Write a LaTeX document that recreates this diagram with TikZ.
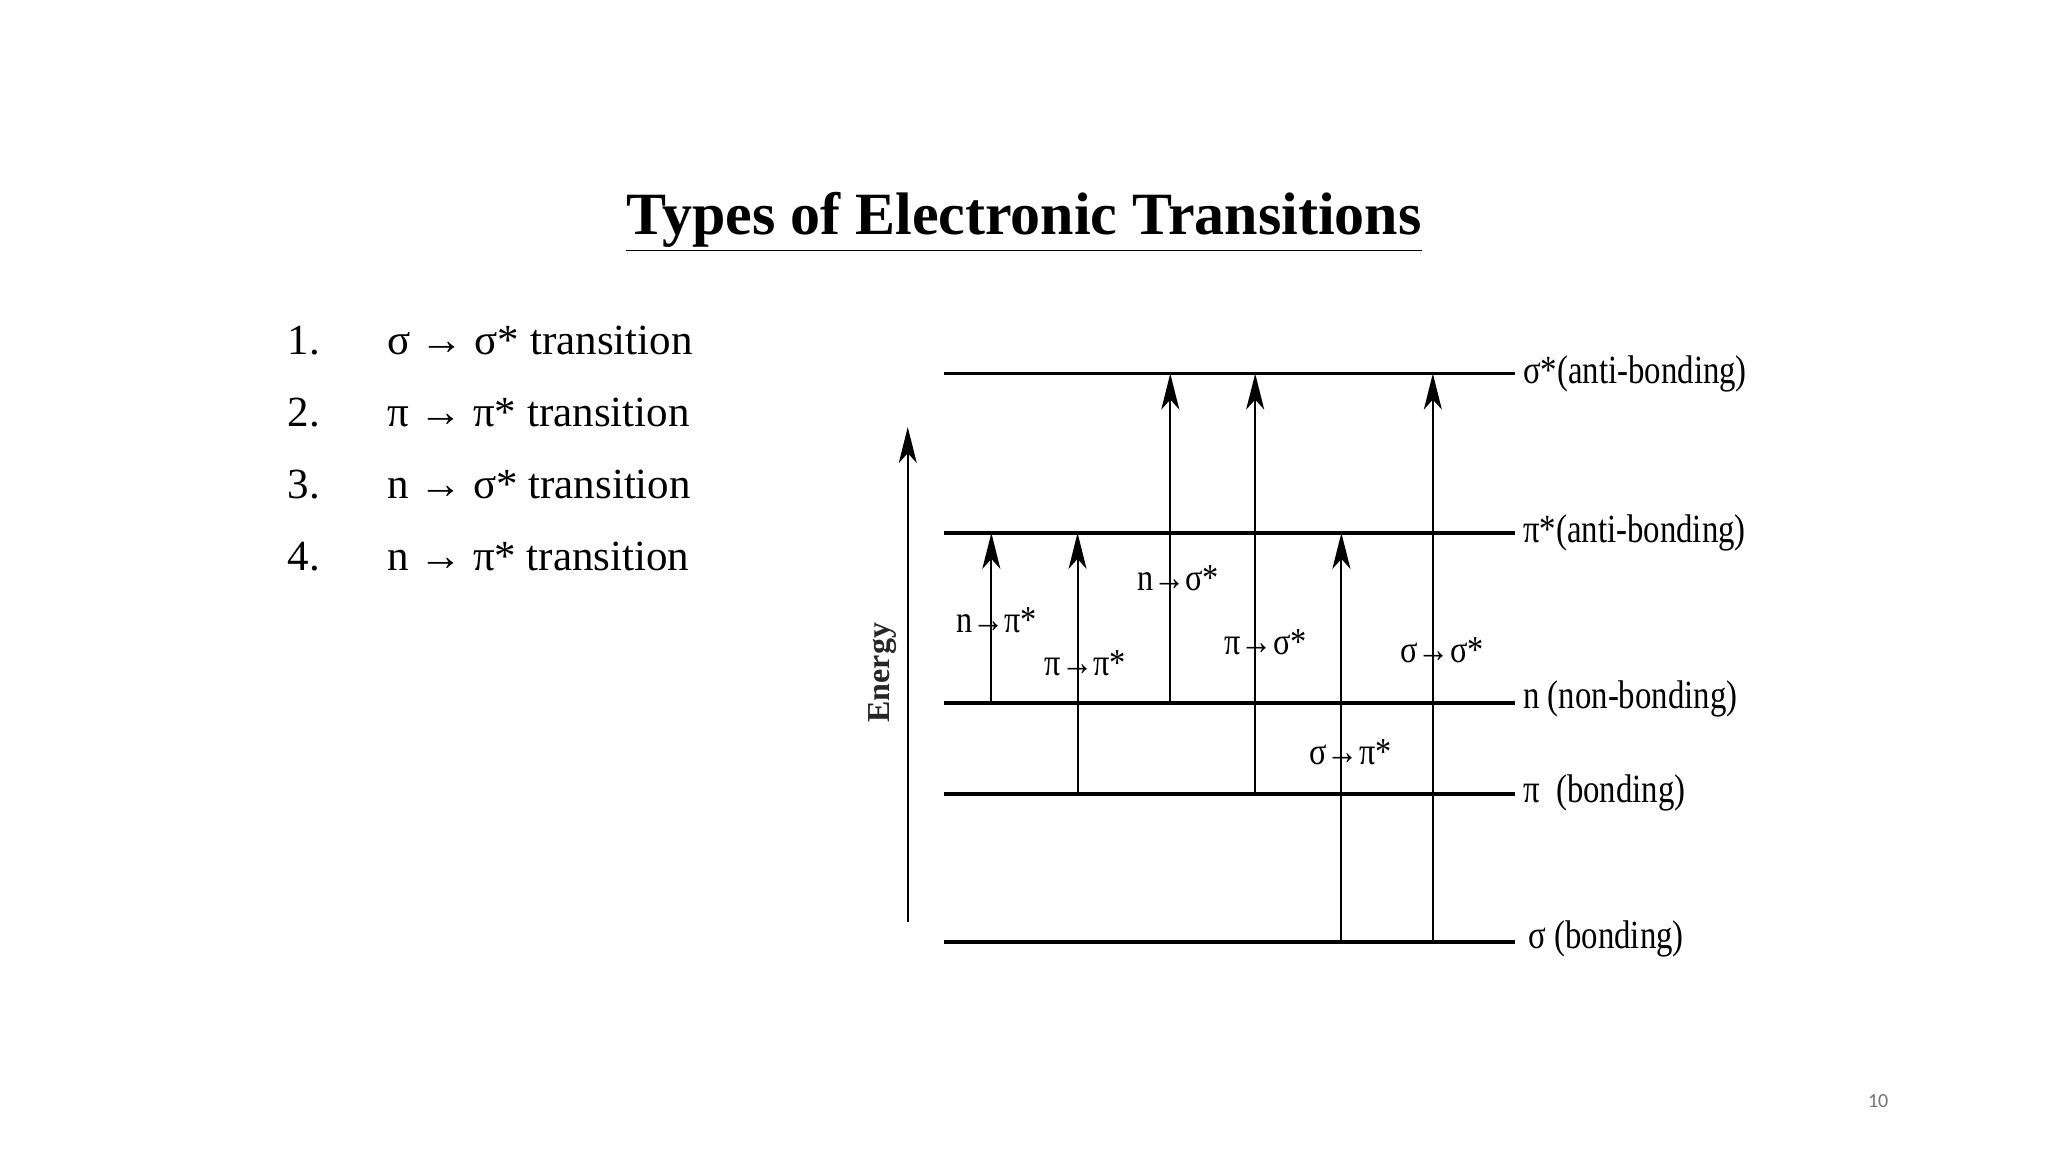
\documentclass[tikz,border=0pt]{standalone}
\usepackage{fontspec}
\setmainfont{Liberation Serif}
\newfontfamily\pagefont{Carlito}
\usetikzlibrary{arrows.meta}
\begin{document}
\begin{tikzpicture}[x=0.653pt,y=-0.653pt,
  lev/.style={line width=1.9pt},
  tr/.style={line width=1pt,-{Stealth[length=18pt,width=9pt,inset=5pt]}},
  lvl/.style={anchor=west,inner sep=0pt,font=\fontsize{20}{22}\selectfont,xscale=0.82},
  tl/.style={inner sep=0pt,font=\fontsize{19}{21}\selectfont,xscale=0.85},
  li/.style={anchor=west,inner sep=0pt,font=\fontsize{21.5}{24}\selectfont}]
\useasboundingbox (0,0) rectangle (1568,882);
\fill[white] (0,0) rectangle (1568,882);
\node[inner sep=0pt,font=\fontsize{30}{34}\selectfont\bfseries] (title) at (784,170) {\underline{Types of Electronic Transitions}};
\foreach \n/\t/\y in {1/σ → σ* transition/261,2/π → π* transition/316,3/n → σ* transition/371,4/n → π* transition/426}{
  \node[li] (num\n) at (220,\y) {\n.};
  \node[li] (it\n) at (296,\y) {\t};
}
% levels
\foreach \nm/\y in {ss/286,ps/408,nb/538,pb/608,sb/721}{
  \coordinate (\nm L) at (723,\y); \coordinate (\nm R) at (1160,\y);
  \draw[lev] (\nm L) -- (\nm R);
}
\node[lvl] (lss) at (1166,286) {σ*(anti-bonding)};
\node[lvl] (lps) at (1166,408) {π*(anti-bonding)};
\node[lvl] (lnb) at (1166,535) {n (non-bonding)};
\node[lvl] (lpb) at (1166,607) {π~ (bonding)};
\node[lvl] (lsb) at (1170,719) {σ (bonding)};
% energy axis
\coordinate (e0) at (695,706); \coordinate (e1) at (695,327);
\draw[tr] (e0) -- (e1);
\node[rotate=90,inner sep=0pt,font=\fontsize{16}{18}\selectfont\bfseries,text=black!85] (en) at (676,515) {Energy};
% transitions
\foreach \nm/\x/\a/\b in {t1/759/538/408,t2/825/608/408,t3/896/538/286,t4/961/608/286,t5/1027/721/408,t6/1097/721/286}{
  \coordinate (\nm a) at (\x,\a); \coordinate (\nm b) at (\x,\b);
  \draw[tr] (\nm a) -- (\nm b);
}
\node[tl] (l1) at (763,475) {n→π*};
\node[tl] (l2) at (831,508) {π→π*};
\node[tl] (l3) at (902,443) {n→σ*};
\node[tl] (l4) at (969,492) {π→σ*};
\node[tl] (l5) at (1034,576) {σ→π*};
\node[tl] (l6) at (1104,498) {σ→σ*};
\node[inner sep=0pt,font=\pagefont\fontsize{10}{12}\selectfont,text=black!55] (pg) at (1438,843) {10};
\end{tikzpicture}
\end{document}
